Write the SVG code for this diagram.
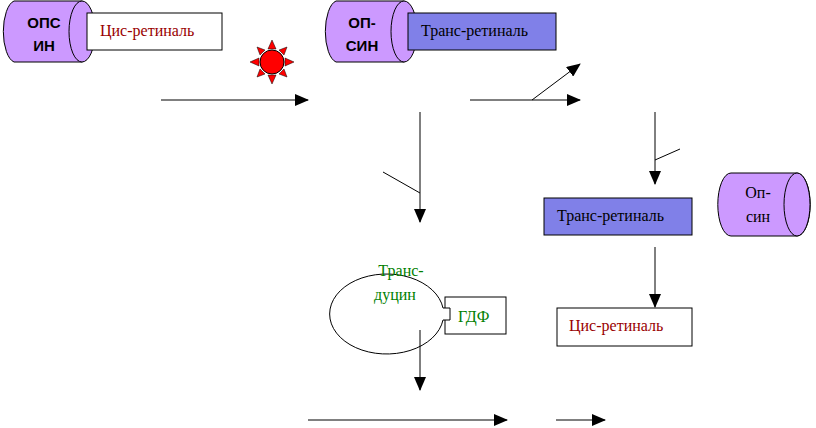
<svg xmlns="http://www.w3.org/2000/svg" width="816" height="428" viewBox="0 0 816 428">
<defs>
<marker id="ah" markerWidth="14" markerHeight="12" refX="13" refY="6" orient="auto" markerUnits="userSpaceOnUse"><path d="M0,0 L14,6 L0,12 Z" fill="#000"/></marker>
<style>
.cyl{fill:#cc99ff;stroke:#000;stroke-width:1}
.box{stroke:#000;stroke-width:1}
.t{font-family:"Liberation Serif",serif;font-size:16px}
.b{font-family:"Liberation Sans",sans-serif;font-weight:bold;font-size:15px}
.c line,.c polyline{stroke:#000;stroke-width:1;fill:none}
</style>
</defs>
<rect width="816" height="428" fill="#fff"/>
<g id="opsin1">
<path class="cyl" d="M14,1 H82 A13,31 0 0 1 82,62 H14 A13,31 0 0 1 14,1 Z"/>
<ellipse class="cyl" cx="82" cy="31.5" rx="13" ry="30.5"/>
<text class="b" x="44" y="28" text-anchor="middle">ОПС</text>
<text class="b" x="44" y="51" text-anchor="middle">ИН</text>
</g>
<g id="cis1"><rect class="box" x="87" y="13" width="135" height="37" fill="#fff"/>
<text class="t" x="100" y="36" fill="#990000">Цис-ретиналь</text></g>
<g id="sun">
<polygon points="272,40 276,49 268,49" fill="#f00" stroke="#000" stroke-width="0.5"/>
<polygon points="272,84 276,75 268,75" fill="#f00" stroke="#000" stroke-width="0.5"/>
<polygon points="250,62 259,58 259,66" fill="#f00" stroke="#000" stroke-width="0.5"/>
<polygon points="294,62 285,58 285,66" fill="#f00" stroke="#000" stroke-width="0.5"/>
<polygon points="257,47 265,50 260,55" fill="#f00" stroke="#000" stroke-width="0.5"/>
<polygon points="287,47 279,50 284,55" fill="#f00" stroke="#000" stroke-width="0.5"/>
<polygon points="257,77 265,74 260,69" fill="#f00" stroke="#000" stroke-width="0.5"/>
<polygon points="287,77 279,74 284,69" fill="#f00" stroke="#000" stroke-width="0.5"/>
<circle cx="272" cy="62" r="12" fill="#f00" stroke="#000"/>
</g>
<g id="opsin2">
<path class="cyl" d="M336,1 H404 A13,31 0 0 1 404,62 H336 A13,31 0 0 1 336,1 Z"/>
<ellipse class="cyl" cx="404" cy="31.5" rx="13" ry="30.5"/>
<text class="b" x="362" y="28" text-anchor="middle">ОП-</text>
<text class="b" x="362" y="51" text-anchor="middle">СИН</text>
</g>
<g id="trans1"><rect class="box" x="408" y="13" width="148" height="37" fill="#8080e8"/>
<text class="t" x="421" y="36" fill="#000">Транс-ретиналь</text></g>
<g id="trans2"><rect class="box" x="544" y="198" width="148" height="37" fill="#8080e8"/>
<text class="t" x="557" y="221" fill="#000">Транс-ретиналь</text></g>
<g id="opsin3">
<path class="cyl" d="M731,173 H797 A13,31 0 0 1 797,236 H731 A13,31 0 0 1 731,173 Z"/>
<ellipse class="cyl" cx="797" cy="204.5" rx="13" ry="31.5"/>
<text class="t" x="758" y="198" text-anchor="middle" font-size="20">Оп-</text>
<text class="t" x="758" y="222" text-anchor="middle" font-size="20">син</text>
</g>
<g id="cis2"><rect class="box" x="557" y="308" width="135" height="38" fill="#fff"/>
<text class="t" x="569" y="331" fill="#990000">Цис-ретиналь</text></g>
<g id="transducin">
<rect class="box" x="445" y="297" width="61" height="37" fill="#fff"/>
<path d="M443,308 A57,40 0 1 0 443,320 H450 V308 Z" fill="#fff" stroke="#000"/>
<text class="t" x="401" y="276" text-anchor="middle" fill="#008000" font-size="20">Транс-</text>
<text class="t" x="395" y="300" text-anchor="middle" fill="#008000" font-size="20">дуцин</text>
<text class="t" x="458" y="322" fill="#008000">ГДФ</text>
</g>
<g class="c" id="connectors">
<line x1="161" y1="100" x2="308" y2="100" marker-end="url(#ah)"/>
<line x1="470" y1="100" x2="580" y2="100" marker-end="url(#ah)"/>
<line x1="532" y1="100" x2="580" y2="64" marker-end="url(#ah)"/>
<line x1="420" y1="112" x2="420" y2="222" marker-end="url(#ah)"/>
<line x1="383" y1="172" x2="420" y2="193"/>
<line x1="655" y1="112" x2="655" y2="184" marker-end="url(#ah)"/>
<line x1="655" y1="160" x2="680" y2="149"/>
<line x1="655" y1="247" x2="655" y2="307" marker-end="url(#ah)"/>
<line x1="420" y1="330" x2="420" y2="390" marker-end="url(#ah)"/>
<line x1="308" y1="420" x2="507" y2="420" marker-end="url(#ah)"/>
<line x1="556" y1="420" x2="605" y2="420" marker-end="url(#ah)"/>
</g>
</svg>
